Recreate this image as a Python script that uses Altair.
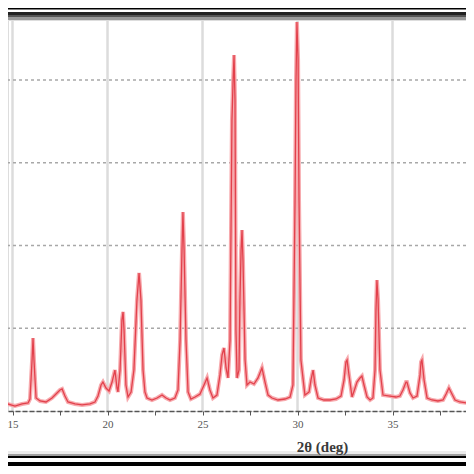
import altair as alt
import pandas as pd

# 2-theta (deg) and intensity (counts)
two_theta = [14.34, 14.76, 15.13, 15.50, 15.82, 15.92, 16.03, 16.08, 16.13, 16.24,
             16.45, 16.76, 17.08, 17.29, 17.50, 17.61, 17.76, 17.92, 18.29, 18.66,
             19.08, 19.34, 19.50, 19.66, 19.76, 19.92, 20.08, 20.24, 20.39, 20.50,
             20.55, 20.66, 20.76, 20.82, 20.87, 20.97, 21.08, 21.24, 21.39, 21.55,
             21.66, 21.76, 21.87, 21.97, 22.08, 22.34, 22.61, 22.87, 23.08, 23.29,
             23.55, 23.71, 23.82, 23.92, 23.97, 24.03, 24.13, 24.24, 24.39, 24.61,
             24.87, 25.08, 25.24, 25.39, 25.55, 25.76, 25.92, 26.03, 26.13, 26.24,
             26.34, 26.45, 26.55, 26.61, 26.66, 26.71, 26.76, 26.82, 26.92, 26.97,
             27.03, 27.08, 27.13, 27.24, 27.34, 27.50, 27.71, 27.92, 28.13, 28.29,
             28.45, 28.66, 28.97, 29.34, 29.61, 29.76, 29.87, 29.92, 29.97, 30.03,
             30.08, 30.18, 30.39, 30.61, 30.71, 30.82, 30.92, 31.08, 31.39, 31.71,
             32.03, 32.29, 32.45, 32.55, 32.61, 32.71, 32.87, 33.03, 33.13, 33.29,
             33.39, 33.50, 33.66, 33.82, 33.97, 34.08, 34.13, 34.18, 34.24, 34.34,
             34.50, 34.87, 35.18, 35.39, 35.55, 35.71, 35.76, 35.92, 36.08, 36.29,
             36.45, 36.50, 36.55, 36.66, 36.82, 37.08, 37.39, 37.66, 37.82, 37.97,
             38.13, 38.29, 38.55, 38.92, 39.29]
intensity = [73, 85, 60, 85, 97, 145, 616, 882, 616, 157,
             121, 109, 157, 205, 254, 266, 181, 109, 85, 73,
             85, 109, 181, 314, 350, 278, 242, 350, 495, 278,
             230, 495, 1100, 1197, 979, 314, 169, 230, 495, 1341,
             1668, 1341, 495, 230, 157, 133, 157, 193, 157, 133,
             157, 254, 858, 1946, 2405, 1946, 858, 230, 145, 169,
             205, 314, 399, 254, 157, 193, 435, 677, 761, 520,
             399, 858, 3517, 3988, 4302, 3758, 979, 399, 495, 1341,
             1946, 2187, 1825, 616, 314, 350, 326, 399, 520, 350,
             193, 157, 133, 145, 169, 314, 2550, 3988, 4701, 4242,
             2550, 616, 193, 230, 375, 495, 314, 157, 133, 133,
             145, 181, 375, 592, 616, 435, 169, 278, 350, 399,
             423, 314, 169, 133, 157, 495, 1221, 1583, 1341, 495,
             193, 181, 169, 181, 254, 350, 350, 218, 157, 181,
             435, 592, 616, 375, 157, 133, 121, 133, 205, 278,
             205, 133, 109, 97, 97]

x_grid = [15, 20, 25, 30, 35]
y_grid = [1000, 2000, 3000, 4000]
x_ticks = [15, 17.5, 20, 22.5, 25, 27.5, 30, 32.5, 35, 37.5]

df = pd.DataFrame({"tt": two_theta, "I": intensity})

XD = [14.763, 38.868]
YD = [0, 4725]
xs = alt.Scale(domain=XD, nice=False, zero=False)
ys = alt.Scale(domain=YD, nice=False, zero=False)

x_axis = alt.Axis(values=x_ticks, title="2θ (deg)",
                  labelExpr="datum.value % 5 === 0 ? format(datum.value, 'd') : ''",
                  grid=False, domainColor="#555555", domainWidth=1.5,
                  domainDash=[5, 2], tickColor="#555555", tickSize=4,
                  labelPadding=3, labelFontSize=11, labelColor="#555555",
                  labelFont="Liberation Serif",
                  titleFont="Liberation Serif", titleFontSize=15,
                  titleFontWeight="bold", titleColor="#3a3a3a",
                  titleX=314, titleY=35, titleAlign="center",
                  titleBaseline="middle", zindex=2)

vgrid = alt.Chart(pd.DataFrame({"tt": x_grid})).mark_rule(
    color="#dcdcdc", strokeWidth=2.5
).encode(x=alt.X("tt:Q", scale=xs, axis=x_axis))

hgrid = alt.Chart(pd.DataFrame({"I": y_grid})).mark_rule(
    color="#a8a8a8", strokeWidth=1.5, strokeDash=[3, 3]
).encode(y=alt.Y("I:Q", scale=ys, axis=None))

halo = alt.Chart(df).mark_line(
    color="#f7a9ad", strokeWidth=4, clip=True
).encode(
    x=alt.X("tt:Q", scale=xs, axis=x_axis),
    y=alt.Y("I:Q", scale=ys, axis=None),
)

line = alt.Chart(df).mark_line(
    color="#e2414c", strokeWidth=1.3, clip=True
).encode(x=alt.X("tt:Q", scale=xs, axis=x_axis),
         y=alt.Y("I:Q", scale=ys, axis=None))


def band(y1, y2, color):
    return alt.Chart(alt.Data(values=[{}])).mark_rect(color=color, clip=False).encode(
        x=alt.value(-8), x2=alt.value(470), y=alt.value(y1), y2=alt.value(y2)
    )


frame = [
    band(-20, -10.5, "#000000"),
    band(-8, -5, "#222222"),
    band(-5, -3, "#555555"),
    band(-3, 0, "#9a9a9a"),
    band(431, 434, "#ececec"),
    band(434, 436, "#a0a0a0"),
    band(436, 438, "#000000"),
    band(442, 460, "#000000"),
]

chart = alt.layer(vgrid, hgrid, halo, line, *frame).properties(
    width=458, height=391,
    autosize=alt.AutoSizeParams(type="none"),
    padding={"left": 0, "top": 12, "right": 0, "bottom": 55},
).configure_view(stroke=None).configure(background="white")

chart.save("out.html", embed_options={"renderer": "svg", "actions": False})
